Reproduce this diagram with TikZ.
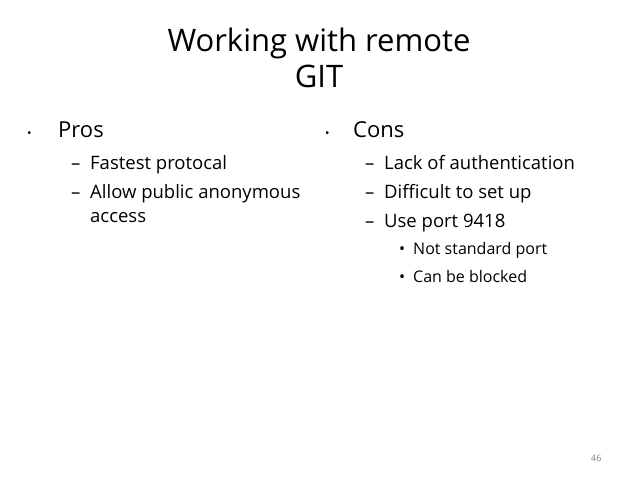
\documentclass[tikz,border=0pt]{standalone}
\usepackage{fontspec}
\setmainfont{Open Sans}
\begin{document}
\begin{tikzpicture}[x=1pt,y=1pt,
  lvlone/.style={anchor=base west, inner sep=0pt, font=\fontsize{22}{26}\selectfont},
  lvltwo/.style={anchor=base west, inner sep=0pt, font=\fontsize{18.5}{22}\selectfont},
  lvlthree/.style={anchor=base west, inner sep=0pt, font=\fontsize{16}{19}\selectfont}]

    \useasboundingbox (0,0) rectangle (638,478);

    % Title
    \node[anchor=base, inner sep=0pt, font=\fontsize{31}{36}\selectfont] (title1) at (319,426) {Working with remote};
    \node[anchor=base, inner sep=0pt, font=\fontsize{31}{36}\selectfont] (title2) at (319,390) {GIT};

    % Pros
    \node[lvlone] (prosdot) at (27,340) {\large•};
    \node[lvlone] (pros) at (58,340) {Pros};
    \node[lvltwo] (dash1) at (71,308) {–};
    \node[lvltwo] (fast) at (90,308) {Fastest protocal};
    \node[lvltwo] (dash2) at (71,279) {–};
    \node[lvltwo] (allow) at (90,279) {Allow public anonymous};
    \node[lvltwo] (access) at (90,255) {access};

    % Cons
    \node[lvlone] (consdot) at (325,340) {\large•};
    \node[lvlone] (cons) at (353,340) {Cons};
    \node[lvltwo] (dash3) at (365,308) {–};
    \node[lvltwo] (lack) at (384,308) {Lack of authentication};
    \node[lvltwo] (dash4) at (365,279) {–};
    \node[lvltwo] (hard) at (384,279) {Difficult to set up};
    \node[lvltwo] (dash5) at (365,250) {–};
    \node[lvltwo] (port) at (384,250) {Use port 9418};
    \node[lvlthree] (dot1) at (399,223) {•};
    \node[lvlthree] (std) at (413,223) {Not standard port};
    \node[lvlthree] (dot2) at (399,195) {•};
    \node[lvlthree] (block) at (413,195) {Can be blocked};

    % Page number
    \node[anchor=base west, inner sep=0pt, font=\fontsize{9}{11}\selectfont, text=gray] (page) at (591,16) {46};

\end{tikzpicture}
\end{document}
